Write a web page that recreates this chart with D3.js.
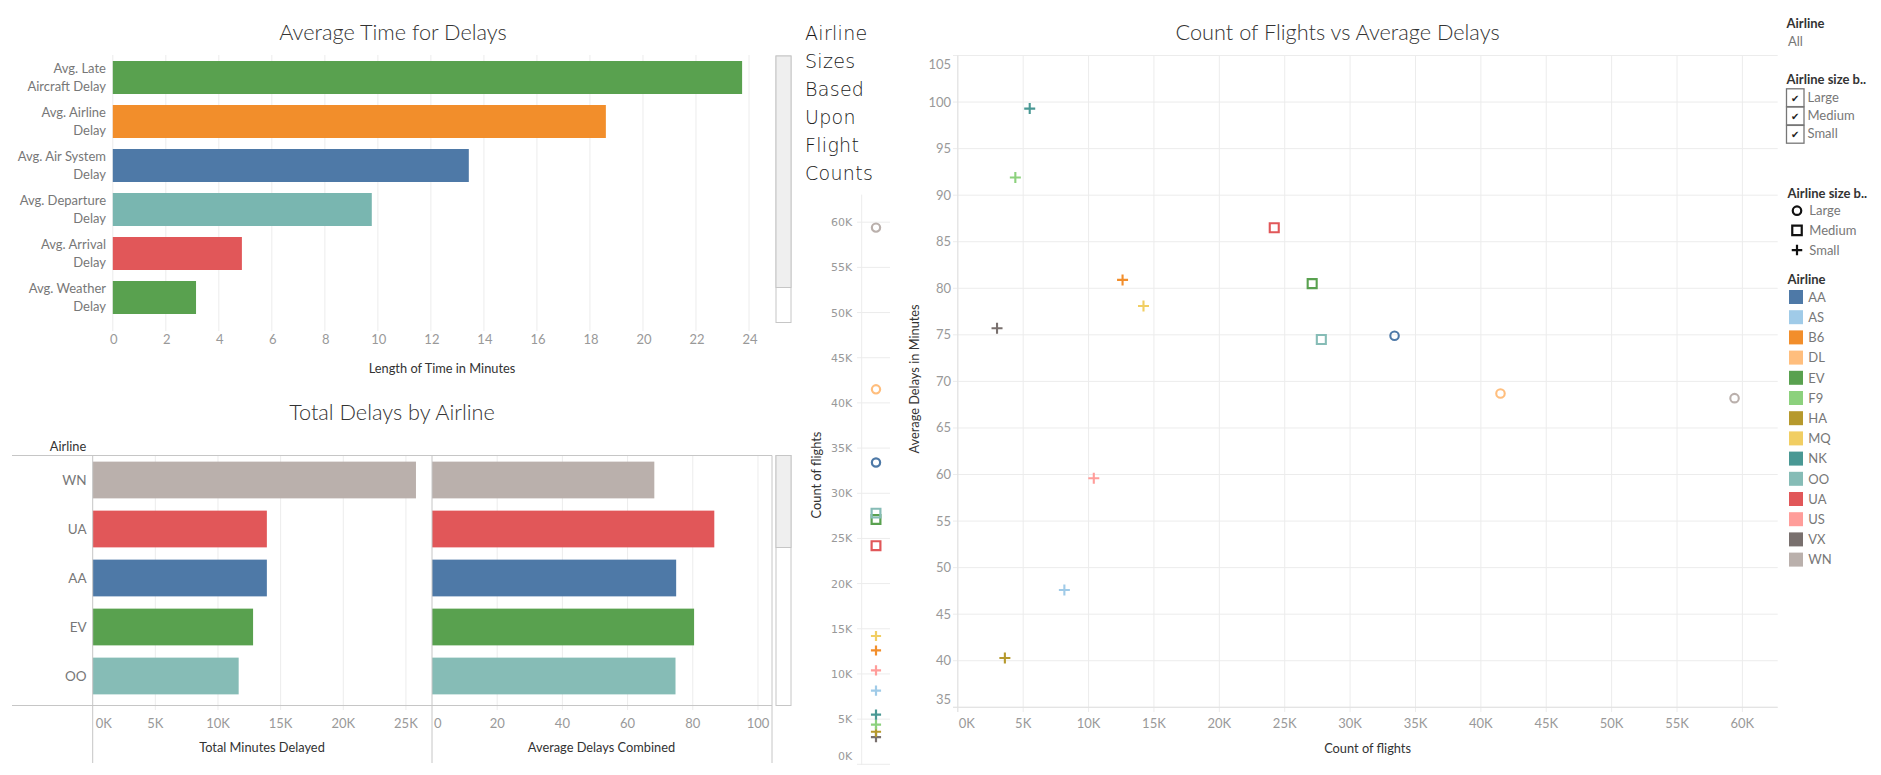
<!DOCTYPE html>
<html><head><meta charset="utf-8">
<script src="https://cdn.jsdelivr.net/npm/d3@7"></script>
<style>
html,body{margin:0;padding:0;background:#fff;}
svg{display:block;font-family:Lato,"Noto Sans",sans-serif;}
</style></head>
<body><svg id="c" width="1881" height="775"></svg>
<script>
// ---------- DATA ----------
const delayCategories = ["Avg. Late Aircraft Delay","Avg. Airline Delay","Avg. Air System Delay","Avg. Departure Delay","Avg. Arrival Delay","Avg. Weather Delay"];
const delayLabelLines = [["Avg. Late","Aircraft Delay"],["Avg. Airline","Delay"],["Avg. Air System","Delay"],["Avg. Departure","Delay"],["Avg. Arrival","Delay"],["Avg. Weather","Delay"]];
const delayMinutes = [23.74, 18.6, 13.43, 9.77, 4.87, 3.14];
const delayTicks = [0,2,4,6,8,10,12,14,16,18,20,22,24];

const topAirlines = ["WN","UA","AA","EV","OO"];
const totalMinutesDelayed = [25800, 13900, 13900, 12800, 11650];
const avgDelaysCombined = [68.2, 86.6, 74.9, 80.4, 74.7];
const totalTicks = [0,5000,10000,15000,20000,25000];
const combinedTicks = [0,20,40,60,80,100];

const airlines = ["AA","AS","B6","DL","EV","F9","HA","MQ","NK","OO","UA","US","VX","WN"];
const flightCounts = [33400, 8150, 12600, 41500, 27100, 4400, 3600, 14200, 5500, 27800, 24200, 10400, 3000, 59400];
const avgDelayMinutes = [74.9, 47.6, 80.9, 68.7, 80.5, 91.9, 40.3, 78.1, 99.3, 74.5, 86.5, 59.6, 75.7, 68.2];
const airlineSize = ["Large","Small","Small","Large","Medium","Small","Small","Small","Small","Medium","Medium","Small","Small","Large"];
const sizeClasses = ["Large","Medium","Small"];
const countTicks = [0,5000,10000,15000,20000,25000,30000,35000,40000,45000,50000,55000,60000];
const avgTicks = [35,40,45,50,55,60,65,70,75,80,85,90,95,100,105];

// ---------- STYLE ----------
const airlineColor = d3.scaleOrdinal().domain(airlines).range(["#4E79A7","#A0CBE8","#F28E2B","#FFBE7D","#59A14F","#8CD17D","#B6992D","#F1CE63","#499894","#86BCB6","#E15759","#FF9D9A","#79706E","#BAB0AC"]);
const delayColor = d3.scaleOrdinal().domain(delayCategories).range(["#59A14F","#F28E2B","#4E79A7","#79B6B0","#E15759","#59A14F"]);
const GRID="#ececec", TICK="#999", LAB="#777", DARK="#333", FRAME="#c6c6c6";
const TS=21.7, AX=12.8, TK=13;
const kfmt = v => (v/1000)+"K";

const svg = d3.select("#c");

const plusType = {draw(ctx,size){const r=Math.sqrt(size)/2; ctx.moveTo(-r,0);ctx.lineTo(r,0);ctx.moveTo(0,-r);ctx.lineTo(0,r);}};
const squareType = {draw(ctx,size){const r=Math.sqrt(size)/2; ctx.rect(-r,-r,2*r,2*r);}};
const circleType = {draw(ctx,size){const r=Math.sqrt(size)/2; ctx.moveTo(r,0); ctx.arc(0,0,r,0,2*Math.PI);}};
const shapeFor = {Large:circleType, Medium:squareType, Small:plusType};
const shapeSize = {Large:72, Medium:81, Small:121};

// ---------- TOP LEFT: Average Time for Delays ----------
{
  const g = svg.append("g");
  const x = d3.scaleLinear().domain([0,24]).range([112.8,749]);
  const y = d3.scaleBand().domain(delayCategories).range([55.5,319.5]).paddingInner(0.25).paddingOuter(0.125);
  g.append("text").attr("x",393).attr("y",40).attr("text-anchor","middle").attr("font-size",TS).attr("font-weight",300).attr("fill",DARK).text("Average Time for Delays");
  g.selectAll(".gl").data(delayTicks).join("line").attr("x1",d=>x(d)).attr("x2",d=>x(d)).attr("y1",55).attr("y2",331).attr("stroke",GRID);
  g.selectAll(".bar").data(delayCategories).join("rect").attr("x",x(0)).attr("y",d=>y(d)).attr("width",(d,i)=>x(delayMinutes[i])-x(0)).attr("height",y.bandwidth()).attr("fill",d=>delayColor(d));
  g.selectAll(".tl").data(delayTicks).join("text").attr("x",d=>x(d)+1).attr("y",343.5).attr("text-anchor","middle").attr("font-size",TK).attr("fill",TICK).text(d=>d);
  const lab = g.selectAll(".yl").data(delayCategories).join("text").attr("text-anchor","end").attr("font-size",13).attr("fill",LAB);
  lab.each(function(d,i){
    const t=d3.select(this), cy=y(d)+y.bandwidth()/2;
    delayLabelLines[i].forEach((s,k)=>t.append("tspan").attr("x",106).attr("y",cy-4.5+k*18).text(s));
  });
  g.append("text").attr("x",442).attr("y",373).attr("text-anchor","middle").attr("font-size",AX).attr("fill",DARK).text("Length of Time in Minutes");
  g.append("rect").attr("x",776).attr("y",56).attr("width",15).attr("height",266.5).attr("fill","#fff").attr("stroke",FRAME);
  g.append("rect").attr("x",776).attr("y",56).attr("width",15).attr("height",231.5).attr("fill","#efefef").attr("stroke",FRAME);
}

// ---------- BOTTOM LEFT: Total Delays by Airline ----------
{
  const g = svg.append("g");
  const y = d3.scaleBand().domain(topAirlines).range([455.5,700.5]).paddingInner(0.25).paddingOuter(0.125);
  const xl = d3.scaleLinear().domain([0,27080]).range([92.7,432]);
  const xr = d3.scaleLinear().domain([0,104.3]).range([432,772]);
  g.append("text").attr("x",392).attr("y",420).attr("text-anchor","middle").attr("font-size",TS).attr("font-weight",300).attr("fill",DARK).text("Total Delays by Airline");
  g.append("text").attr("x",68).attr("y",451).attr("text-anchor","middle").attr("font-size",AX).attr("fill",DARK).text("Airline");
  g.selectAll(".gl").data(totalTicks.slice(1)).join("line").attr("x1",d=>xl(d)).attr("x2",d=>xl(d)).attr("y1",455.5).attr("y2",710).attr("stroke",GRID);
  g.selectAll(".gr").data(combinedTicks.slice(1)).join("line").attr("x1",d=>xr(d)).attr("x2",d=>xr(d)).attr("y1",455.5).attr("y2",710).attr("stroke",GRID);
  g.selectAll(".bl").data(topAirlines).join("rect").attr("x",xl(0)).attr("y",d=>y(d)).attr("width",(d,i)=>xl(totalMinutesDelayed[i])-xl(0)).attr("height",y.bandwidth()).attr("fill",d=>airlineColor(d));
  g.selectAll(".br").data(topAirlines).join("rect").attr("x",xr(0)).attr("y",d=>y(d)).attr("width",(d,i)=>xr(avgDelaysCombined[i])-xr(0)).attr("height",y.bandwidth()).attr("fill",d=>airlineColor(d));
  g.selectAll(".yl").data(topAirlines).join("text").attr("x",86.6).attr("y",d=>y(d)+y.bandwidth()/2+4.5).attr("text-anchor","end").attr("font-size",13.5).attr("fill",LAB).text(d=>d);
  [[12,455.5,772,455.5],[12,705.5,772,705.5],[92.7,455.5,92.7,763],[432,455.5,432,763],[772,455.5,772,763]].forEach(l=>
    g.append("line").attr("x1",l[0]).attr("y1",l[1]).attr("x2",l[2]).attr("y2",l[3]).attr("stroke",FRAME));
  g.selectAll(".tl").data(totalTicks).join("text").attr("x",(d,i)=>i===0?xl(d)+3:xl(d)).attr("y",727.5).attr("text-anchor",(d,i)=>i===0?"start":"middle").attr("font-size",TK).attr("fill",TICK).text(kfmt);
  g.selectAll(".tr").data(combinedTicks).join("text").attr("x",(d,i)=>i===0?xr(d)+2:xr(d)).attr("y",727.5).attr("text-anchor",(d,i)=>i===0?"start":"middle").attr("font-size",TK).attr("fill",TICK).text(d=>d);
  g.append("text").attr("x",262).attr("y",752).attr("text-anchor","middle").attr("font-size",AX).attr("fill",DARK).text("Total Minutes Delayed");
  g.append("text").attr("x",601.5).attr("y",752).attr("text-anchor","middle").attr("font-size",AX).attr("fill",DARK).text("Average Delays Combined");
  g.append("rect").attr("x",776).attr("y",455.5).attr("width",15).attr("height",250).attr("fill","#fff").attr("stroke",FRAME);
  g.append("rect").attr("x",776).attr("y",455.5).attr("width",15).attr("height",92).attr("fill","#efefef").attr("stroke",FRAME);
}

// ---------- MIDDLE STRIP: Airline sizes ----------
{
  const g = svg.append("g");
  const y = d3.scaleLinear().domain([0,62900]).range([764.3,196]);
  const titleLines = ["Airline","Sizes","Based","Upon","Flight","Counts"];
  g.selectAll(".tt").data(titleLines).join("text").attr("x",805).attr("y",(d,i)=>40+i*27.9).attr("font-family","'DejaVu Sans',sans-serif").attr("font-size",19).attr("font-weight",200).attr("fill","#1a1a1a").attr("letter-spacing",0.3).text(d=>d);
  g.selectAll(".gl").data(countTicks).join("line").attr("x1",857).attr("x2",890).attr("y1",d=>y(d)).attr("y2",d=>y(d)).attr("stroke",GRID);
  g.append("line").attr("x1",861.7).attr("x2",861.7).attr("y1",194.6).attr("y2",765).attr("stroke",GRID);
  g.selectAll(".tl").data(countTicks).join("text").attr("x",852.3).attr("y",d=>Math.min(y(d),756)+4).attr("text-anchor","end").attr("font-family","'DejaVu Sans',sans-serif").attr("font-size",11).attr("fill","#999").text(kfmt);
  g.append("text").attr("transform","translate(821,475) rotate(-90)").attr("text-anchor","middle").attr("font-size",AX).attr("fill",DARK).text("Count of flights");
  const order = d3.range(airlines.length).sort((a,b)=>flightCounts[a]-flightCounts[b]);
  g.selectAll(".m").data(order).join("path").attr("transform",i=>`translate(876,${y(flightCounts[i])})`)
    .attr("d",i=>d3.symbol().type(shapeFor[airlineSize[i]]).size(shapeSize[airlineSize[i]]*(airlineSize[i]==="Small"?0.85:0.95))())
    .attr("fill","none").attr("stroke",i=>airlineColor(airlines[i])).attr("stroke-width",2.2);
}

// ---------- SCATTER ----------
{
  const g = svg.append("g");
  const x = d3.scaleLinear().domain([0,62700]).range([957.8,1777.7]);
  const y = d3.scaleLinear().domain([35,105]).range([707.3,55.5]);
  g.append("text").attr("x",1337.6).attr("y",40).attr("text-anchor","middle").attr("font-size",TS).attr("font-weight",300).attr("fill",DARK).text("Count of Flights vs Average Delays");
  g.selectAll(".gx").data(countTicks).join("line").attr("x1",d=>x(d)).attr("x2",d=>x(d)).attr("y1",55.5).attr("y2",712).attr("stroke",GRID);
  g.selectAll(".gy").data(avgTicks).join("line").attr("x1",953).attr("x2",1777.7).attr("y1",d=>y(d)).attr("y2",d=>y(d)).attr("stroke",GRID);
  g.append("line").attr("x1",957.8).attr("x2",957.8).attr("y1",55.5).attr("y2",712).attr("stroke","#e2e2e2");
  g.append("line").attr("x1",953).attr("x2",1777.7).attr("y1",707.3).attr("y2",707.3).attr("stroke","#e2e2e2");
  g.selectAll(".ty").data(avgTicks).join("text").attr("x",951).attr("y",d=>Math.max(64.3,Math.min(699.3,y(d)))+4.5).attr("text-anchor","end").attr("font-size",TK).attr("fill",TICK).text(d=>d);
  g.selectAll(".tx").data(countTicks).join("text").attr("x",(d,i)=>i===0?x(d)+1:x(d)).attr("y",727.5).attr("text-anchor",(d,i)=>i===0?"start":"middle").attr("font-size",TK).attr("fill",TICK).text(kfmt);
  g.append("text").attr("x",1367.6).attr("y",753).attr("text-anchor","middle").attr("font-size",AX).attr("fill",DARK).text("Count of flights");
  g.append("text").attr("transform","translate(919,379) rotate(-90)").attr("text-anchor","middle").attr("font-size",AX).attr("fill",DARK).text("Average Delays in Minutes");
  g.selectAll(".p").data(d3.range(airlines.length)).join("path").attr("transform",i=>`translate(${x(flightCounts[i])},${y(avgDelayMinutes[i])})`)
    .attr("d",i=>d3.symbol().type(shapeFor[airlineSize[i]]).size(shapeSize[airlineSize[i]])())
    .attr("fill","none").attr("stroke",i=>airlineColor(airlines[i])).attr("stroke-width",2.1);
}

// ---------- LEGENDS ----------
{
  const g = svg.append("g").attr("font-size",13);
  g.append("text").attr("x",1786.5).attr("y",27.5).attr("font-weight",700).attr("fill",DARK).text("Airline");
  g.append("text").attr("x",1788).attr("y",45.5).attr("fill","#777").text("All");
  g.append("text").attr("x",1786.5).attr("y",83.5).attr("font-weight",700).attr("fill",DARK).text("Airline size b..");
  const cb = g.selectAll(".cb").data(sizeClasses).join("g").attr("transform",(d,i)=>`translate(1786,${88.3+i*18.3})`);
  cb.append("rect").attr("x",0.5).attr("y",0.5).attr("width",17.5).attr("height",17.8).attr("fill","#fff").attr("stroke","#777").attr("stroke-width",1.3);
  cb.append("text").attr("x",9.2).attr("y",13.3).attr("text-anchor","middle").attr("font-family","'DejaVu Sans',sans-serif").attr("font-size",10).attr("fill","#222").text("✔");
  cb.append("text").attr("x",21.5).attr("y",13.6).attr("fill",LAB).text(d=>d);
  g.append("text").attr("x",1787.5).attr("y",197.5).attr("font-weight",700).attr("fill",DARK).text("Airline size b..");
  const sh = g.selectAll(".sh").data(sizeClasses).join("g").attr("transform",(d,i)=>`translate(1797,${210.7+i*19.7})`);
  sh.append("path").attr("d",d=>d3.symbol().type(shapeFor[d]).size(d==="Large"?72:d==="Medium"?90:110)()).attr("fill","none").attr("stroke","#111").attr("stroke-width",2.2);
  sh.append("text").attr("x",12.3).attr("y",4.7).attr("fill",LAB).text(d=>d);
  g.append("text").attr("x",1787.5).attr("y",283.5).attr("font-weight",700).attr("fill",DARK).text("Airline");
  const sw = g.selectAll(".sw").data(airlines).join("g").attr("transform",(d,i)=>`translate(1789,${290+i*20.2})`);
  sw.append("rect").attr("width",14).attr("height",14).attr("fill",d=>airlineColor(d));
  sw.append("text").attr("x",19.3).attr("y",11.8).attr("fill",LAB).text(d=>d);
}
</script></body></html>
